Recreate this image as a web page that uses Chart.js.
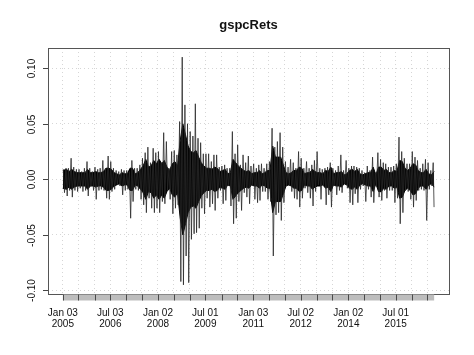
<!DOCTYPE html>
<html><head><meta charset="utf-8">
<script src="https://cdn.jsdelivr.net/npm/chart.js@4/dist/chart.umd.min.js"></script>
<style>html,body{margin:0;padding:0;background:#fff}#wrap{width:474px;height:355px}</style>
</head><body><div id="wrap"><canvas id="c" width="474" height="355"></canvas></div>
<script>
// ---- data (monthly view of daily returns, Jan 2005 .. Sep 2016) ----
const chartTitle = "gspcRets";
const firstMonth = [2005, 0];
const lastDay = [2016, 8, 16];
// largest daily gain in each month
const monthHighs = [
  0.009,0.010,0.010,0.019,0.011,0.009,0.009,0.007,0.010,0.016,0.010,0.007,
  0.011,0.009,0.010,0.017,0.010,0.021,0.016,0.010,0.008,0.007,0.009,0.008,
  0.008,0.007,0.017,0.010,0.010,0.013,0.019,0.024,0.029,0.015,0.028,0.024,
  0.025,0.015,0.042,0.034,0.010,0.025,0.026,0.022,0.052,0.110,0.067,0.050,
  0.043,0.039,0.068,0.037,0.033,0.023,0.023,0.023,0.016,0.022,0.022,0.011,
  0.012,0.013,0.010,0.010,0.043,0.023,0.031,0.013,0.022,0.015,0.021,0.012,
  0.014,0.010,0.013,0.014,0.010,0.014,0.016,0.046,0.029,0.034,0.042,0.029,
  0.016,0.011,0.018,0.015,0.010,0.025,0.019,0.010,0.016,0.010,0.013,0.017,
  0.025,0.010,0.009,0.010,0.011,0.015,0.010,0.008,0.012,0.022,0.008,0.017,
  0.010,0.012,0.012,0.011,0.010,0.008,0.006,0.012,0.008,0.020,0.006,0.024,
  0.018,0.015,0.014,0.011,0.011,0.012,0.014,0.038,0.025,0.019,0.014,0.014,
  0.025,0.020,0.017,0.010,0.014,0.018,0.015,0.008,0.015
];
// largest daily loss in each month
const monthLows = [
  -0.012,-0.015,-0.010,-0.016,-0.010,-0.011,-0.008,-0.011,-0.010,-0.015,-0.006,-0.010,
  -0.018,-0.010,-0.009,-0.010,-0.017,-0.018,-0.011,-0.009,-0.005,-0.006,-0.014,-0.010,
  -0.009,-0.035,-0.020,-0.009,-0.010,-0.018,-0.023,-0.030,-0.017,-0.026,-0.030,-0.026,
  -0.030,-0.020,-0.022,-0.010,-0.018,-0.031,-0.026,-0.023,-0.092,-0.095,-0.069,-0.093,
  -0.054,-0.049,-0.048,-0.044,-0.026,-0.031,-0.017,-0.025,-0.022,-0.028,-0.017,-0.010,
  -0.022,-0.019,-0.006,-0.024,-0.040,-0.035,-0.020,-0.028,-0.012,-0.016,-0.022,-0.005,
  -0.018,-0.021,-0.019,-0.011,-0.011,-0.018,-0.020,-0.069,-0.032,-0.030,-0.037,-0.021,
  -0.006,-0.006,-0.011,-0.017,-0.018,-0.025,-0.017,-0.008,-0.012,-0.017,-0.024,-0.011,
  -0.005,-0.018,-0.006,-0.023,-0.014,-0.025,-0.006,-0.014,-0.010,-0.012,-0.004,-0.008,
  -0.021,-0.023,-0.013,-0.021,-0.009,-0.006,-0.020,-0.009,-0.016,-0.021,-0.006,-0.016,
  -0.019,-0.010,-0.017,-0.010,-0.010,-0.021,-0.017,-0.040,-0.030,-0.010,-0.011,-0.018,
  -0.025,-0.019,-0.010,-0.009,-0.010,-0.037,-0.009,-0.006,-0.025
];
// half-width of the dense black core of typical daily moves in each month
const monthCore = [
  0.008,0.009,0.007,0.009,0.007,0.006,0.006,0.006,0.006,0.009,0.006,0.006,
  0.007,0.006,0.006,0.007,0.010,0.010,0.009,0.006,0.005,0.004,0.006,0.005,
  0.005,0.010,0.010,0.005,0.006,0.009,0.012,0.018,0.011,0.012,0.017,0.014,
  0.018,0.014,0.017,0.011,0.008,0.014,0.016,0.012,0.035,0.050,0.040,0.030,
  0.025,0.024,0.026,0.020,0.015,0.012,0.010,0.010,0.009,0.011,0.010,0.007,
  0.008,0.009,0.005,0.006,0.018,0.015,0.012,0.010,0.008,0.007,0.008,0.005,
  0.006,0.006,0.008,0.005,0.006,0.008,0.008,0.030,0.020,0.020,0.020,0.013,
  0.006,0.005,0.006,0.008,0.008,0.011,0.010,0.005,0.006,0.006,0.009,0.007,
  0.006,0.006,0.005,0.008,0.007,0.011,0.005,0.006,0.006,0.007,0.004,0.005,
  0.008,0.009,0.007,0.009,0.005,0.004,0.005,0.006,0.006,0.011,0.004,0.011,
  0.011,0.008,0.009,0.006,0.006,0.008,0.007,0.017,0.016,0.010,0.008,0.010,
  0.014,0.013,0.008,0.006,0.006,0.009,0.005,0.004,0.007
];
const yTicks = [-0.10, -0.05, 0.00, 0.05, 0.10];
const yTickLabels = ["-0.10", "-0.05", "0.00", "0.05", "0.10"];
const xTickDates = [
  [2005,0,3],[2005,6,1],[2006,0,3],[2006,6,3],[2007,0,3],[2007,6,2],
  [2008,0,2],[2008,6,1],[2009,0,2],[2009,6,1],[2010,0,4],[2010,6,1],
  [2011,0,3],[2011,6,1],[2012,0,3],[2012,6,2],[2013,0,2],[2013,6,1],
  [2014,0,2],[2014,6,1],[2015,0,2],[2015,6,1],[2016,0,4],[2016,6,1]
];
const xLabelLines1 = ["Jan 03","Jul 03","Jan 02","Jul 01","Jan 03","Jul 02","Jan 02","Jul 01"];
const xLabelLines2 = ["2005","2006","2008","2009","2011","2012","2014","2015"];
const xLabelEvery = 3;

// ---- helpers ----
function toYear(y, m, d) {
  return y + (Date.UTC(y, m, d) - Date.UTC(y, 0, 1)) / (Date.UTC(y + 1, 0, 1) - Date.UTC(y, 0, 1));
}
function monthOf(i) {
  return [firstMonth[0] + Math.floor((firstMonth[1] + i) / 12), (firstMonth[1] + i) % 12];
}
const xStart = toYear(2005, 0, 3), xEnd = toYear(lastDay[0], lastDay[1], lastDay[2]);
const spikePts = [], coreTop = [], coreBot = [];
monthHighs.forEach((h, i) => {
  const [y, m] = monthOf(i);
  const last = i === monthHighs.length - 1;
  spikePts.push({ x: toYear(y, m, last ? 5 : 8), y: h });
  spikePts.push({ x: toYear(y, m, last ? 15 : 22), y: monthLows[i] });
  const cx = i === 0 ? xStart : (last ? xEnd : toYear(y, m, 15));
  coreTop.push({ x: cx, y: monthCore[i] });
  coreBot.push({ x: cx, y: -monthCore[i] });
});
const xRange = xEnd - xStart;
const dMin = Math.min(...monthLows), dMax = Math.max(...monthHighs), dRange = dMax - dMin;
const tickYears = xTickDates.map(d => toYear(d[0], d[1], d[2]));

const decor = {
  id: 'decor',
  afterDraw(chart) {
    const { ctx, chartArea: a, scales: { x, y } } = chart;
    ctx.save();
    ctx.strokeStyle = '#555'; ctx.lineWidth = 1;
    ctx.strokeRect(Math.round(a.left) + 0.5, Math.round(a.top) + 0.5, Math.round(a.right - a.left), Math.round(a.bottom - a.top));
    const bx0 = x.getPixelForValue(xStart), bx1 = x.getPixelForValue(xEnd);
    ctx.fillStyle = '#bdbdbd';
    ctx.fillRect(bx0, a.bottom + 0.5, bx1 - bx0, 6);
    ctx.strokeStyle = '#4a4a4a'; ctx.lineWidth = 1;
    tickYears.forEach(t => {
      const px = Math.round(x.getPixelForValue(t)) + 0.5;
      ctx.beginPath(); ctx.moveTo(px, a.bottom + 0.5); ctx.lineTo(px, a.bottom + 6.5); ctx.stroke();
    });
    ctx.fillStyle = '#111'; ctx.font = '10px "Liberation Sans", Arial, sans-serif';
    ctx.textAlign = 'center'; ctx.textBaseline = 'middle';
    tickYears.forEach((t, i) => {
      if (i % xLabelEvery) return;
      const k = i / xLabelEvery;
      const px = x.getPixelForValue(t);
      ctx.fillText(xLabelLines1[k], px, 313);
      ctx.fillText(xLabelLines2[k], px, 324);
    });
    ctx.strokeStyle = '#444';
    yTicks.forEach((v, i) => {
      const py = Math.round(y.getPixelForValue(v)) + 0.5;
      ctx.beginPath(); ctx.moveTo(a.left - 5, py); ctx.lineTo(a.left, py); ctx.stroke();
      ctx.save(); ctx.translate(32, py); ctx.rotate(-Math.PI / 2);
      ctx.fillText(yTickLabels[i], 0, 0); ctx.restore();
    });
    ctx.font = 'bold 13px "Liberation Sans", Arial, sans-serif';
    ctx.fillText(chartTitle, (a.left + a.right) / 2, 25);
    ctx.restore();
  }
};

new Chart(document.getElementById('c'), {
  type: 'line',
  data: { datasets: [
    { data: coreTop, borderColor: '#000', borderWidth: 1, backgroundColor: '#000', pointRadius: 0, tension: 0, fill: '+1', order: 2 },
    { data: coreBot, borderColor: '#000', borderWidth: 1, pointRadius: 0, tension: 0, fill: false, order: 2 },
    { data: spikePts, borderColor: '#2a2a2a', borderWidth: 0.8, pointRadius: 0, tension: 0, fill: false, order: 1 }
  ] },
  options: {
    responsive: false, animation: false, devicePixelRatio: 1,
    layout: { padding: { left: 48, right: 25, top: 48, bottom: 61 } },
    plugins: { legend: { display: false }, tooltip: { enabled: false }, title: { display: false }, filler: { propagate: false } },
    scales: {
      x: {
        type: 'linear', min: xStart - 0.04 * xRange, max: xEnd + 0.04 * xRange, z: 1,
        afterFit(s) { s.height = 0; },
        afterBuildTicks(s) { s.ticks = tickYears.map(v => ({ value: v })); },
        ticks: { display: false },
        grid: { color: '#d6d6d6', lineWidth: 1, drawTicks: false },
        border: { display: false, dash: [1, 3] }
      },
      y: {
        type: 'linear', min: dMin - 0.04 * dRange, max: dMax + 0.04 * dRange, z: 1,
        afterFit(s) { s.width = 0; },
        afterBuildTicks(s) { s.ticks = yTicks.map(v => ({ value: v })); },
        ticks: { display: false },
        grid: { color: '#d6d6d6', lineWidth: 1, drawTicks: false },
        border: { display: false, dash: [1, 3] }
      }
    }
  },
  plugins: [decor]
});
</script></body></html>
